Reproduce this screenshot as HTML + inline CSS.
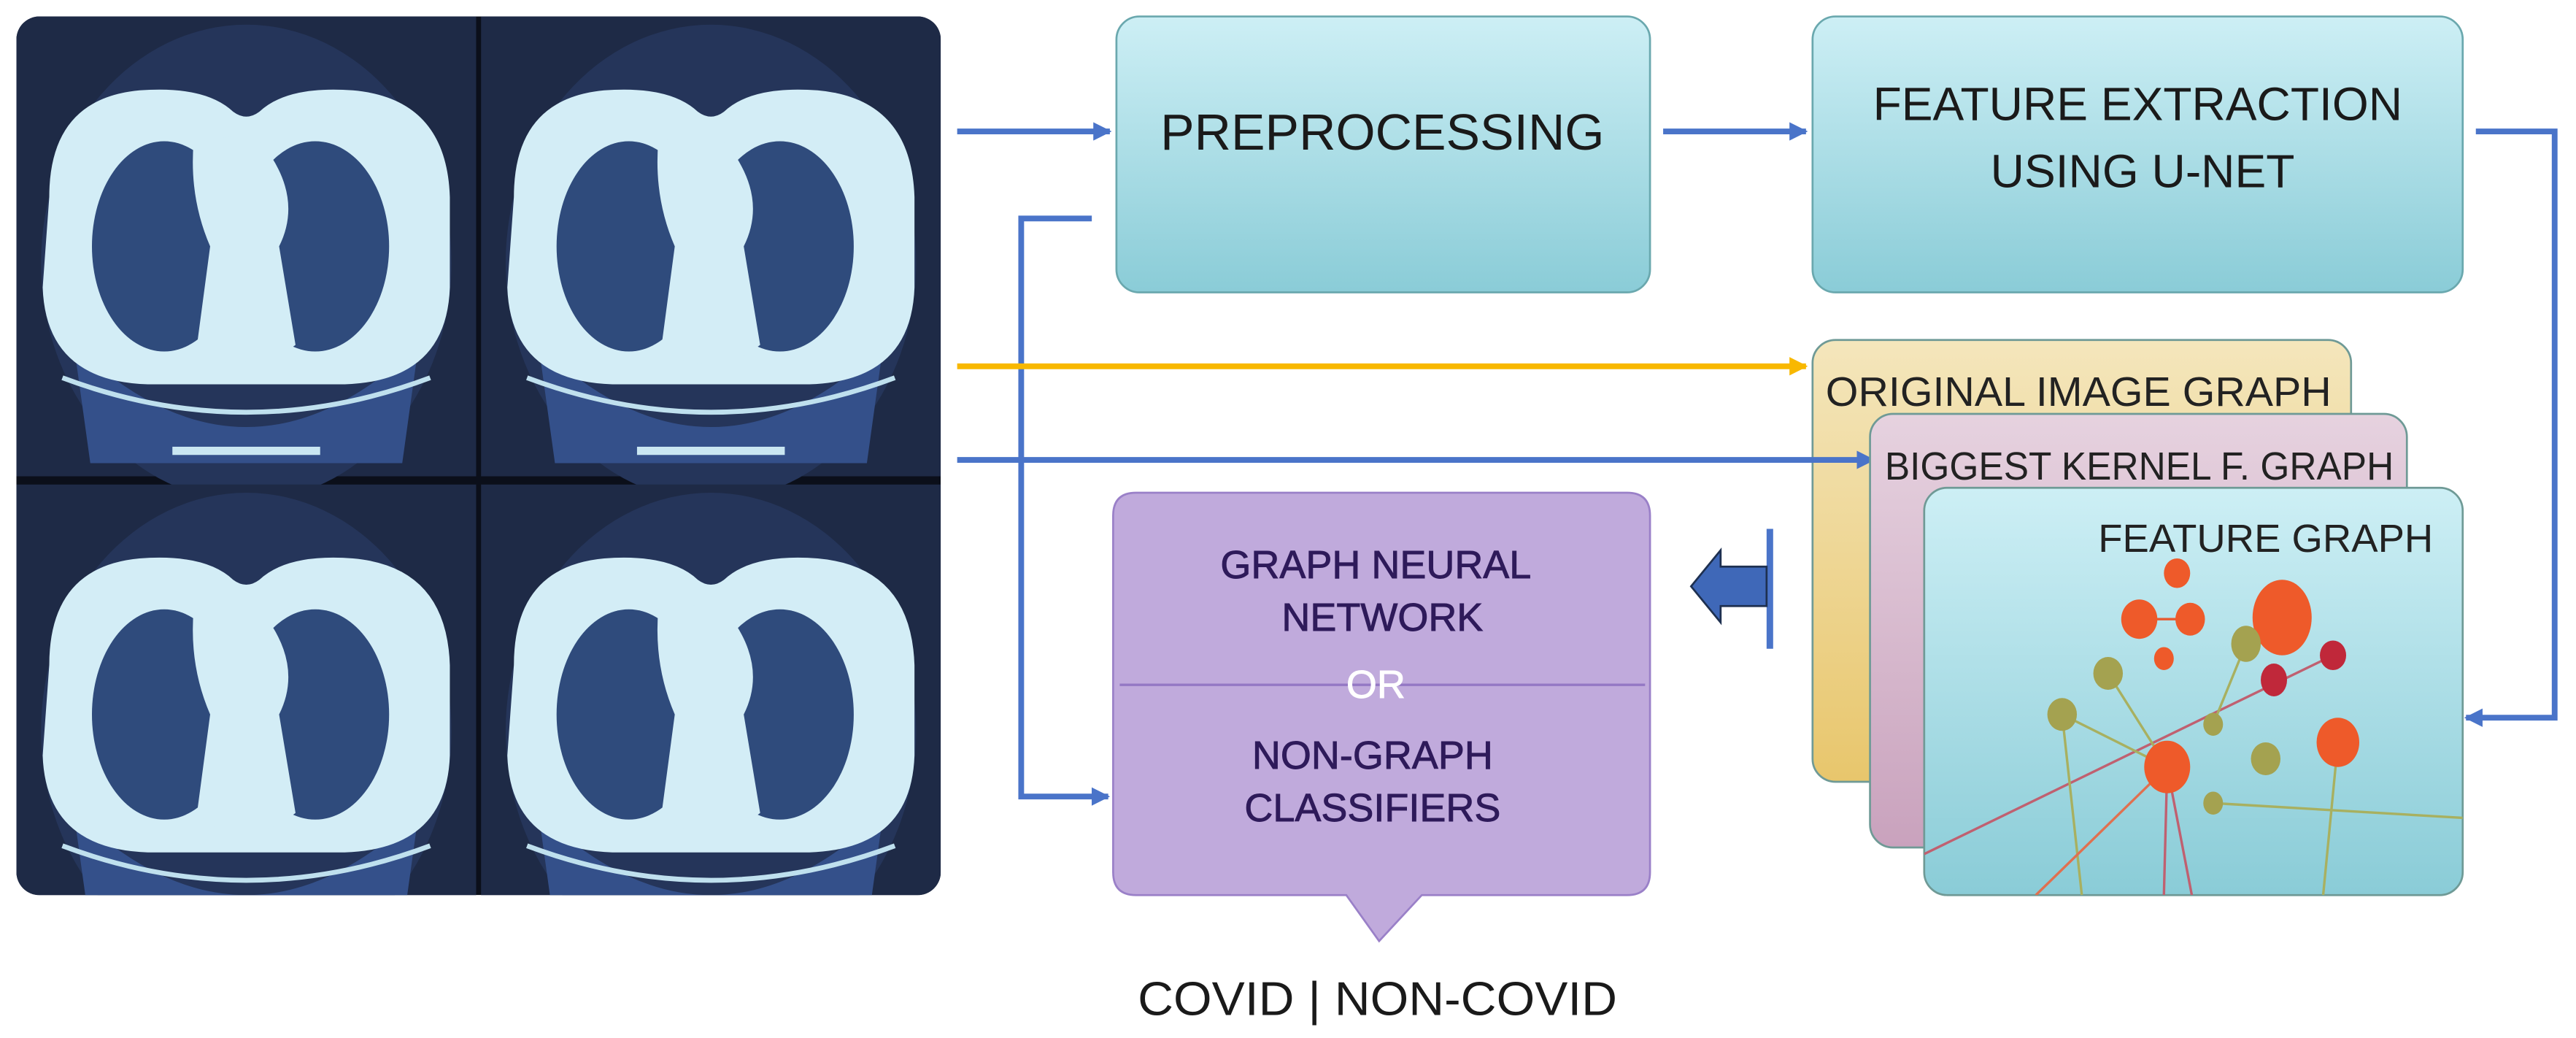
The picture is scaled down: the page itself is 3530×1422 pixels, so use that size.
<!DOCTYPE html>
<html><head><meta charset="utf-8"><style>html,body{margin:0;padding:0;background:#fff}svg{display:block}</style></head><body>
<svg width="3530" height="1422" viewBox="0 0 1569 632" xmlns="http://www.w3.org/2000/svg" font-family="'Liberation Sans', sans-serif">
<defs>
<linearGradient id="teal" x1="0" y1="0" x2="0" y2="1"><stop offset="0" stop-color="#cdeff5"/><stop offset="1" stop-color="#8accd7"/></linearGradient>
<linearGradient id="yel" x1="0" y1="0" x2="0" y2="1"><stop offset="0" stop-color="#f4e6bc"/><stop offset="1" stop-color="#e8c66c"/></linearGradient>
<linearGradient id="pink" x1="0" y1="0" x2="0" y2="1"><stop offset="0" stop-color="#e6d2df"/><stop offset="1" stop-color="#c9a2bd"/></linearGradient>
<g id="ct">
<rect x="0" y="0" width="280" height="280" fill="#1e2a46"/>
<ellipse cx="140" cy="150" rx="125" ry="145" fill="#25355a"/>
<path d="M35 200 Q140 300 245 200 L235 272 L45 272Z" fill="#34508a"/>
<path d="M28 220 Q140 262 252 220" stroke="#bfe0ee" stroke-width="3" fill="none"/>
<rect x="95" y="262" width="90" height="5" fill="#c9e6f2"/>
<path d="M20 110 Q20 50 75 45 Q115 42 132 58 Q140 64 148 58 Q165 42 205 45 Q262 50 264 110 L264 165 Q262 222 200 224 L80 224 Q18 222 16 165Z" fill="#d3edf6"/>
<ellipse cx="90" cy="140" rx="44" ry="64" fill="#2f4b7c"/>
<ellipse cx="182" cy="140" rx="45" ry="64" fill="#2f4b7c"/>
<path d="M108 76 Q140 70 150 78 Q175 110 160 140 L170 200 Q150 215 140 210 Q125 215 110 200 L118 140 Q105 110 108 76Z" fill="#d3edf6"/>
</g>
<marker id="ab" viewBox="0 0 10 10" refX="9" refY="5" markerWidth="3.2" markerHeight="3.2" orient="auto"><path d="M0 0L10 5L0 10Z" fill="#4a74c9"/></marker>
<marker id="ay" viewBox="0 0 10 10" refX="9" refY="5" markerWidth="3.2" markerHeight="3.2" orient="auto"><path d="M0 0L10 5L0 10Z" fill="#f8b800"/></marker>
<clipPath id="ctc"><rect x="10" y="10" width="563" height="535" rx="14"/></clipPath>
<clipPath id="fg"><rect x="1172" y="297" width="328" height="248" rx="14"/></clipPath>
</defs>

<g clip-path="url(#ctc)">
<rect x="10" y="10" width="563" height="535" fill="#0b0f1a"/>
<use href="#ct" x="10" y="10"/>
<use href="#ct" x="293" y="10"/>
<use href="#ct" x="10" y="295"/>
<use href="#ct" x="293" y="295"/>
</g>

<rect x="680" y="10" width="325" height="168" rx="14" fill="url(#teal)" stroke="#6aa8ae" stroke-width="1.2"/>
<text x="842" y="91" font-size="31" text-anchor="middle" fill="#1a1a1a">PREPROCESSING</text>
<rect x="1104" y="10" width="396" height="168" rx="14" fill="url(#teal)" stroke="#6aa8ae" stroke-width="1.2"/>
<text x="1302" y="73" font-size="28.5" text-anchor="middle" fill="#1a1a1a">FEATURE EXTRACTION</text>
<text x="1305" y="114" font-size="28.5" text-anchor="middle" fill="#1a1a1a">USING U-NET</text>

<g stroke="#4a74c9" stroke-width="3.5" fill="none">
<line x1="583" y1="80" x2="676" y2="80" marker-end="url(#ab)"/>
<line x1="1013" y1="80" x2="1100" y2="80" marker-end="url(#ab)"/>
<polyline points="1508,80 1556,80 1556,437 1502,437" marker-end="url(#ab)"/>
<polyline points="665,133 622,133 622,485 675,485" marker-end="url(#ab)"/>
</g>
<line x1="583" y1="223" x2="1100" y2="223" stroke="#f8b800" stroke-width="3.5" marker-end="url(#ay)"/>

<rect x="1104" y="207" width="328" height="269" rx="14" fill="url(#yel)" stroke="#6f9a96" stroke-width="1.2"/>
<text x="1112" y="247" font-size="25" fill="#222" textLength="308" lengthAdjust="spacingAndGlyphs">ORIGINAL IMAGE GRAPH</text>
<line x1="583" y1="280" x2="1141" y2="280" stroke="#4a74c9" stroke-width="3.5" marker-end="url(#ab)"/>
<rect x="1139" y="252" width="327" height="264" rx="14" fill="url(#pink)" stroke="#6f9a96" stroke-width="1.2"/>
<text x="1148" y="292" font-size="24" fill="#222" textLength="310" lengthAdjust="spacingAndGlyphs">BIGGEST KERNEL F. GRAPH</text>
<rect x="1172" y="297" width="328" height="248" rx="14" fill="url(#teal)" stroke="#6f9a96" stroke-width="1.2"/>
<text x="1482" y="336" font-size="24" text-anchor="end" fill="#222" textLength="204" lengthAdjust="spacingAndGlyphs">FEATURE GRAPH</text>
<g clip-path="url(#fg)">
<g stroke-width="1.5" fill="none">
<line x1="1421" y1="399" x2="1172" y2="520" stroke="#c06070"/>
<line x1="1284" y1="410" x2="1320" y2="467" stroke="#a8b060"/>
<line x1="1368" y1="392" x2="1348" y2="441" stroke="#a8b060"/>
<line x1="1256" y1="435" x2="1320" y2="467" stroke="#a8b060"/>
<line x1="1256" y1="435" x2="1268" y2="545" stroke="#a8b060"/>
<line x1="1348" y1="489" x2="1500" y2="498" stroke="#a8b060"/>
<line x1="1424" y1="452" x2="1415" y2="545" stroke="#a8b060"/>
<line x1="1320" y1="467" x2="1240" y2="545" stroke="#e07050"/>
<line x1="1320" y1="467" x2="1318" y2="545" stroke="#c06070"/>
<line x1="1320" y1="467" x2="1335" y2="545" stroke="#c06070"/>
<line x1="1303" y1="377" x2="1334" y2="377" stroke="#e85a30"/>
</g>
<g fill="#ee5a2a">
<ellipse cx="1326" cy="349" rx="8" ry="9"/>
<ellipse cx="1303" cy="377" rx="11" ry="12"/>
<ellipse cx="1334" cy="377" rx="9" ry="10"/>
<ellipse cx="1390" cy="376" rx="18" ry="23"/>
<ellipse cx="1318" cy="401" rx="6" ry="7"/>
<ellipse cx="1320" cy="467" rx="14" ry="16"/>
<ellipse cx="1424" cy="452" rx="13" ry="15"/>
</g>
<g fill="#a4a250">
<ellipse cx="1368" cy="392" rx="9" ry="11"/>
<ellipse cx="1284" cy="410" rx="9" ry="10"/>
<ellipse cx="1256" cy="435" rx="9" ry="10"/>
<ellipse cx="1348" cy="441" rx="6" ry="7"/>
<ellipse cx="1380" cy="462" rx="9" ry="10"/>
<ellipse cx="1348" cy="489" rx="6" ry="7"/>
</g>
<g fill="#c0283a">
<ellipse cx="1421" cy="399" rx="8" ry="9"/>
<ellipse cx="1385" cy="414" rx="8" ry="10"/>
</g>
</g>

<line x1="1078" y1="322" x2="1078" y2="395" stroke="#4a74c9" stroke-width="4"/>
<path d="M1076 345 L1048 345 L1048 335 L1030 357 L1048 379 L1048 369 L1076 369Z" fill="#3f68b8" stroke="#1e3050" stroke-width="1.2"/>

<path d="M692 300 L991 300 Q1005 300 1005 314 L1005 531 Q1005 545 991 545 L866 545 L840 573 L820 545 L692 545 Q678 545 678 531 L678 314 Q678 300 692 300Z" fill="#c0aadc" stroke="#9a80c8" stroke-width="1.2"/>
<line x1="682" y1="417" x2="1002" y2="417" stroke="#9478c4" stroke-width="1.5"/>
<g font-size="24" text-anchor="middle" fill="#2e1a5a" stroke="#2e1a5a" stroke-width="0.4">
<text x="838" y="352">GRAPH NEURAL</text>
<text x="842" y="384">NETWORK</text>
<text x="838" y="425" fill="#fff" stroke="#fff">OR</text>
<text x="836" y="468">NON-GRAPH</text>
<text x="836" y="500">CLASSIFIERS</text>
</g>
<text x="839" y="618" font-size="29" text-anchor="middle" fill="#1a1a1a" textLength="292" lengthAdjust="spacingAndGlyphs">COVID | NON-COVID</text>
</svg>
</body></html>
